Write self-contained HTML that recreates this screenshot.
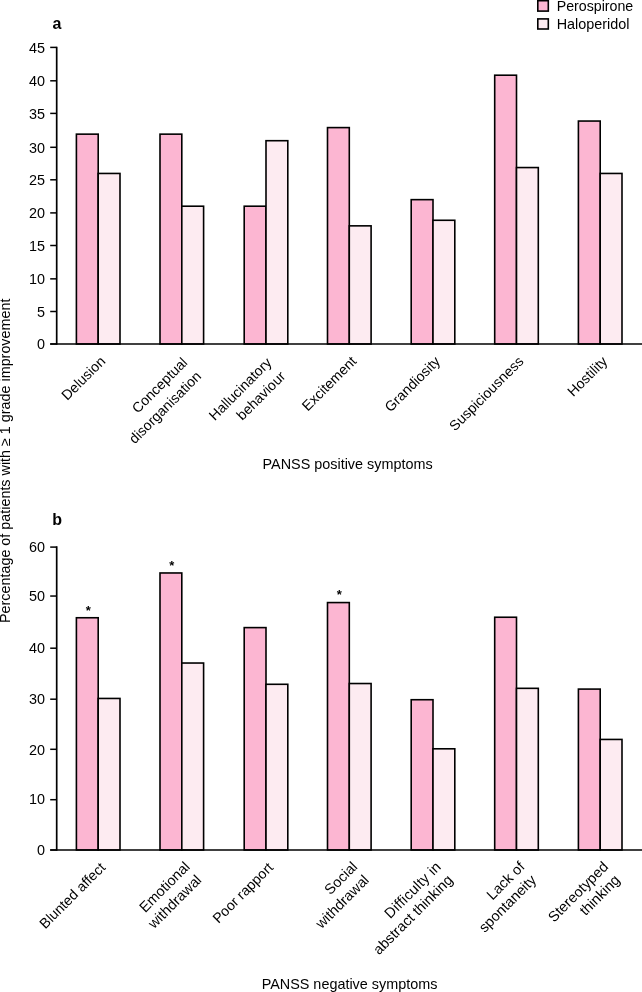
<!DOCTYPE html>
<html><head><meta charset="utf-8"><title>PANSS symptoms</title>
<style>
html,body{margin:0;padding:0;background:#fff;}
svg{display:block;}
svg{font-family:"Liberation Sans",Arial,Helvetica,sans-serif;font-size:14.4px;fill:#000;}
</style></head>
<body>
<svg width="642" height="992" viewBox="0 0 642 992">
<rect width="642" height="992" fill="#fff"/>
<rect x="76.40" y="134.15" width="21.8" height="209.85" fill="#fcb6d2" stroke="#000" stroke-width="1.6"/>
<rect x="98.20" y="173.45" width="21.8" height="170.55" fill="#fdebf1" stroke="#000" stroke-width="1.6"/>
<rect x="160.00" y="134.15" width="21.8" height="209.85" fill="#fcb6d2" stroke="#000" stroke-width="1.6"/>
<rect x="181.80" y="206.20" width="21.8" height="137.80" fill="#fdebf1" stroke="#000" stroke-width="1.6"/>
<rect x="244.20" y="206.20" width="21.8" height="137.80" fill="#fcb6d2" stroke="#000" stroke-width="1.6"/>
<rect x="266.00" y="140.70" width="21.8" height="203.30" fill="#fdebf1" stroke="#000" stroke-width="1.6"/>
<rect x="327.50" y="127.60" width="21.8" height="216.40" fill="#fcb6d2" stroke="#000" stroke-width="1.6"/>
<rect x="349.30" y="225.85" width="21.8" height="118.15" fill="#fdebf1" stroke="#000" stroke-width="1.6"/>
<rect x="411.20" y="199.65" width="21.8" height="144.35" fill="#fcb6d2" stroke="#000" stroke-width="1.6"/>
<rect x="433.00" y="220.28" width="21.8" height="123.72" fill="#fdebf1" stroke="#000" stroke-width="1.6"/>
<rect x="494.70" y="75.20" width="21.8" height="268.80" fill="#fcb6d2" stroke="#000" stroke-width="1.6"/>
<rect x="516.50" y="167.56" width="21.8" height="176.44" fill="#fdebf1" stroke="#000" stroke-width="1.6"/>
<rect x="578.40" y="121.05" width="21.8" height="222.95" fill="#fcb6d2" stroke="#000" stroke-width="1.6"/>
<rect x="600.20" y="173.45" width="21.8" height="170.55" fill="#fdebf1" stroke="#000" stroke-width="1.6"/>
<line x1="56.7" y1="46.65" x2="56.7" y2="344.75" stroke="#000" stroke-width="1.7"/>
<line x1="50.2" y1="344.0" x2="642" y2="344.0" stroke="#000" stroke-width="1.5"/>
<line x1="50.2" y1="344.00" x2="56.7" y2="344.00" stroke="#000" stroke-width="1.5"/>
<text x="44.9" y="349.20" text-anchor="end">0</text>
<line x1="50.2" y1="311.50" x2="56.7" y2="311.50" stroke="#000" stroke-width="1.5"/>
<text x="44.9" y="316.70" text-anchor="end">5</text>
<line x1="50.2" y1="278.85" x2="56.7" y2="278.85" stroke="#000" stroke-width="1.5"/>
<text x="44.9" y="284.05" text-anchor="end">10</text>
<line x1="50.2" y1="245.50" x2="56.7" y2="245.50" stroke="#000" stroke-width="1.5"/>
<text x="44.9" y="250.70" text-anchor="end">15</text>
<line x1="50.2" y1="212.90" x2="56.7" y2="212.90" stroke="#000" stroke-width="1.5"/>
<text x="44.9" y="218.10" text-anchor="end">20</text>
<line x1="50.2" y1="179.80" x2="56.7" y2="179.80" stroke="#000" stroke-width="1.5"/>
<text x="44.9" y="185.00" text-anchor="end">25</text>
<line x1="50.2" y1="147.30" x2="56.7" y2="147.30" stroke="#000" stroke-width="1.5"/>
<text x="44.9" y="152.50" text-anchor="end">30</text>
<line x1="50.2" y1="113.40" x2="56.7" y2="113.40" stroke="#000" stroke-width="1.5"/>
<text x="44.9" y="118.60" text-anchor="end">35</text>
<line x1="50.2" y1="80.80" x2="56.7" y2="80.80" stroke="#000" stroke-width="1.5"/>
<text x="44.9" y="86.00" text-anchor="end">40</text>
<line x1="50.2" y1="47.40" x2="56.7" y2="47.40" stroke="#000" stroke-width="1.5"/>
<text x="44.9" y="52.60" text-anchor="end">45</text>
<rect x="76.40" y="617.75" width="21.8" height="232.25" fill="#fcb6d2" stroke="#000" stroke-width="1.6"/>
<rect x="98.20" y="698.45" width="21.8" height="151.55" fill="#fdebf1" stroke="#000" stroke-width="1.6"/>
<rect x="160.00" y="572.97" width="21.8" height="277.03" fill="#fcb6d2" stroke="#000" stroke-width="1.6"/>
<rect x="181.80" y="663.03" width="21.8" height="186.97" fill="#fdebf1" stroke="#000" stroke-width="1.6"/>
<rect x="244.20" y="627.61" width="21.8" height="222.39" fill="#fcb6d2" stroke="#000" stroke-width="1.6"/>
<rect x="266.00" y="684.29" width="21.8" height="165.71" fill="#fdebf1" stroke="#000" stroke-width="1.6"/>
<rect x="327.50" y="602.57" width="21.8" height="247.43" fill="#fcb6d2" stroke="#000" stroke-width="1.6"/>
<rect x="349.30" y="683.53" width="21.8" height="166.47" fill="#fdebf1" stroke="#000" stroke-width="1.6"/>
<rect x="411.20" y="699.72" width="21.8" height="150.28" fill="#fcb6d2" stroke="#000" stroke-width="1.6"/>
<rect x="433.00" y="748.80" width="21.8" height="101.20" fill="#fdebf1" stroke="#000" stroke-width="1.6"/>
<rect x="494.70" y="617.24" width="21.8" height="232.76" fill="#fcb6d2" stroke="#000" stroke-width="1.6"/>
<rect x="516.50" y="688.33" width="21.8" height="161.67" fill="#fdebf1" stroke="#000" stroke-width="1.6"/>
<rect x="578.40" y="689.09" width="21.8" height="160.91" fill="#fcb6d2" stroke="#000" stroke-width="1.6"/>
<rect x="600.20" y="739.44" width="21.8" height="110.56" fill="#fdebf1" stroke="#000" stroke-width="1.6"/>
<line x1="56.7" y1="546.35" x2="56.7" y2="850.75" stroke="#000" stroke-width="1.7"/>
<line x1="50.2" y1="850" x2="642" y2="850" stroke="#000" stroke-width="1.5"/>
<line x1="50.2" y1="850.00" x2="56.7" y2="850.00" stroke="#000" stroke-width="1.5"/>
<text x="44.9" y="855.20" text-anchor="end">0</text>
<line x1="50.2" y1="799.70" x2="56.7" y2="799.70" stroke="#000" stroke-width="1.5"/>
<text x="44.9" y="803.60" text-anchor="end">10</text>
<line x1="50.2" y1="749.30" x2="56.7" y2="749.30" stroke="#000" stroke-width="1.5"/>
<text x="44.9" y="754.50" text-anchor="end">20</text>
<line x1="50.2" y1="699.20" x2="56.7" y2="699.20" stroke="#000" stroke-width="1.5"/>
<text x="44.9" y="704.40" text-anchor="end">30</text>
<line x1="50.2" y1="648.20" x2="56.7" y2="648.20" stroke="#000" stroke-width="1.5"/>
<text x="44.9" y="653.40" text-anchor="end">40</text>
<line x1="50.2" y1="596.05" x2="56.7" y2="596.05" stroke="#000" stroke-width="1.5"/>
<text x="44.9" y="601.25" text-anchor="end">50</text>
<line x1="50.2" y1="547.10" x2="56.7" y2="547.10" stroke="#000" stroke-width="1.5"/>
<text x="44.9" y="552.30" text-anchor="end">60</text>
<g transform="translate(106.2,362.2) rotate(-45)" font-size="14.15">
<text x="0" y="0.0" text-anchor="end">Delusion</text>
</g>
<g transform="translate(188.3,363.4) rotate(-45)" font-size="14.15">
<text x="0" y="0.0" text-anchor="end">Conceptual</text>
<text x="0" y="19.5" text-anchor="end">disorganisation</text>
</g>
<g transform="translate(272.5,363.4) rotate(-45)" font-size="14.15">
<text x="0" y="0.0" text-anchor="end">Hallucinatory</text>
<text x="0" y="19.5" text-anchor="end">behaviour</text>
</g>
<g transform="translate(357.3,362.2) rotate(-45)" font-size="14.15">
<text x="0" y="0.0" text-anchor="end">Excitement</text>
</g>
<g transform="translate(441.0,362.2) rotate(-45)" font-size="14.15">
<text x="0" y="0.0" text-anchor="end">Grandiosity</text>
</g>
<g transform="translate(524.5,362.2) rotate(-45)" font-size="14.15">
<text x="0" y="0.0" text-anchor="end">Suspiciousness</text>
</g>
<g transform="translate(608.2,362.2) rotate(-45)" font-size="14.15">
<text x="0" y="0.0" text-anchor="end">Hostility</text>
</g>
<g transform="translate(106.2,868.5) rotate(-45)" font-size="14.15">
<text x="0" y="0.0" text-anchor="end">Blunted affect</text>
</g>
<g transform="translate(190.8,867.6) rotate(-45)" font-size="14.5">
<text x="0" y="0.0" text-anchor="end">Emotional</text>
<text x="-1.2" y="17.6" text-anchor="end">withdrawal</text>
</g>
<g transform="translate(274.0,868.5) rotate(-45)" font-size="14.15">
<text x="0" y="0.0" text-anchor="end">Poor rapport</text>
</g>
<g transform="translate(358.3,867.6) rotate(-45)" font-size="14.5">
<text x="0" y="0.0" text-anchor="end">Social</text>
<text x="-1.2" y="17.6" text-anchor="end">withdrawal</text>
</g>
<g transform="translate(442.0,867.6) rotate(-45)" font-size="14.5">
<text x="0" y="0.0" text-anchor="end"><tspan letter-spacing="0.25">Difficulty in</tspan></text>
<text x="-1.2" y="17.6" text-anchor="end">abstract thinking</text>
</g>
<g transform="translate(525.5,867.6) rotate(-45)" font-size="14.5">
<text x="0" y="0.0" text-anchor="end">Lack of</text>
<text x="-1.2" y="17.6" text-anchor="end">spontaneity</text>
</g>
<g transform="translate(609.2,867.6) rotate(-45)" font-size="14.5">
<text x="0" y="0.0" text-anchor="end">Stereotyped</text>
<text x="-1.2" y="17.6" text-anchor="end">thinking</text>
</g>
<text x="88.2" y="614.5" text-anchor="middle" font-size="13" font-weight="bold">*</text>
<text x="171.8" y="569.8" text-anchor="middle" font-size="13" font-weight="bold">*</text>
<text x="339.3" y="599.4" text-anchor="middle" font-size="13" font-weight="bold">*</text>
<text x="52.5" y="28.9" font-weight="bold" font-size="16">a</text>
<text x="52.2" y="524.5" font-weight="bold" font-size="16">b</text>
<text x="347.6" y="469" text-anchor="middle">PANSS positive symptoms</text>
<text x="349.5" y="988.6" text-anchor="middle">PANSS negative symptoms</text>
<text transform="translate(10.1,623.0) rotate(-90)" x="0" y="0" font-size="14.35">Percentage of patients with ≥ 1 grade improvement</text>
<rect x="537.8" y="0.7" width="10.5" height="10.4" fill="#fcb6d2" stroke="#000" stroke-width="1.6"/>
<rect x="537.8" y="18.9" width="10.5" height="10.1" fill="#fdebf1" stroke="#000" stroke-width="1.6"/>
<text x="556.7" y="11" font-size="14.2">Perospirone</text>
<text x="556.7" y="28.7">Haloperidol</text>
</svg>
</body></html>
